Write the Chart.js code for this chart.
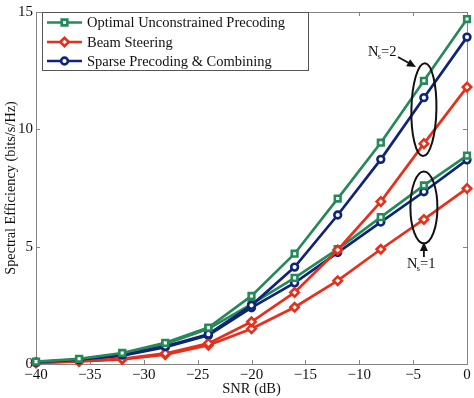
<!DOCTYPE html>
<html>
<head>
<meta charset="utf-8">
<script src="https://cdn.jsdelivr.net/npm/chart.js@4.4.0/dist/chart.umd.min.js"></script>
<style>
  html, body { margin: 0; padding: 0; background: #fff; }
  #wrap { width: 474px; height: 398px; }
</style>
</head>
<body>
<div id="wrap"><canvas id="seChart" width="474" height="398"></canvas></div>
<script>
// SNR points (dB) and axis ticks
const snr = [-40, -36, -32, -28, -24, -20, -16, -12, -8, -4, 0];
const xTicks = [-40, -35, -30, -25, -20, -15, -10, -5, 0];
const yTicks = [0, 5, 10, 15];

// Ns = 2 curves
const optimal2 = [0.10, 0.22, 0.47, 0.90, 1.55, 2.90, 4.70, 7.05, 9.43, 12.07, 14.70];
const sparse2  = [0.08, 0.18, 0.38, 0.75, 1.27, 2.50, 4.13, 6.35, 8.72, 11.35, 13.93];
const beam2    = [0.05, 0.12, 0.22, 0.45, 0.88, 1.80, 3.05, 4.86, 6.92, 9.39, 11.80];

// Ns = 1 curves
const optimal1 = [0.08, 0.20, 0.42, 0.85, 1.50, 2.55, 3.67, 4.89, 6.26, 7.61, 8.88];
const sparse1  = [0.07, 0.17, 0.36, 0.72, 1.22, 2.40, 3.46, 4.75, 6.05, 7.34, 8.70];
const beam1    = [0.05, 0.11, 0.20, 0.40, 0.80, 1.50, 2.42, 3.55, 4.89, 6.16, 7.48];

const legendNames = ['Optimal Unconstrained Precoding', 'Beam Steering', 'Sparse Precoding & Combining'];

const FONT = "'Liberation Serif', 'Times New Roman', serif";

const styles = [
    { color: '#26895a', pointStyle: 'rect', radius: 4.0 },
    { color: '#e5301c', pointStyle: 'rectRot', radius: 4.2 },
    { color: '#0e2479', pointStyle: 'circle', radius: 3.4 }
];

function makeSet(label, values, s) {
    return {
        label: label,
        data: values.map((v, i) => ({ x: snr[i], y: v })),
        borderColor: s.color,
        backgroundColor: '#ffffff',
        borderWidth: 2.7,
        pointStyle: s.pointStyle,
        pointRadius: s.radius,
        pointBorderWidth: 2.6,
        pointBackgroundColor: '#ffffff',
        pointBorderColor: s.color,
        tension: 0,
        clip: false
    };
}

// box + inward ticks like MATLAB
const framePlugin = {
    id: 'frame',
    beforeDatasetsDraw(chart) {
        const { ctx, chartArea: a, scales } = chart;
        ctx.save();
        ctx.strokeStyle = '#858585';
        ctx.lineWidth = 1;
        ctx.strokeRect(a.left + 0.5, a.top + 0.5, a.right - a.left, a.bottom - a.top);
        ctx.beginPath();
        xTicks.forEach(v => {
            const px = Math.round(scales.x.getPixelForValue(v)) + 0.5;
            ctx.moveTo(px, a.bottom); ctx.lineTo(px, a.bottom - 4);
            ctx.moveTo(px, a.top); ctx.lineTo(px, a.top + 4);
        });
        yTicks.forEach(v => {
            const py = Math.round(scales.y.getPixelForValue(v)) + 0.5;
            ctx.moveTo(a.left, py); ctx.lineTo(a.left + 4, py);
            ctx.moveTo(a.right, py); ctx.lineTo(a.right - 4, py);
        });
        ctx.stroke();
        ctx.restore();
    }
};

function drawNs(ctx, x, y, sub) {
    ctx.font = '14.5px ' + FONT;
    ctx.fillText('N', x, y);
    let w = ctx.measureText('N').width;
    ctx.font = '9px ' + FONT;
    ctx.fillText('s', x + w - 1, y + 3);
    w += ctx.measureText('s').width - 1;
    ctx.font = '14.5px ' + FONT;
    ctx.fillText('=' + sub, x + w, y);
}

function arrow(ctx, x1, y1, x2, y2) {
    const ang = Math.atan2(y2 - y1, x2 - x1);
    const len = 9, half = 4;
    ctx.beginPath();
    ctx.moveTo(x1, y1);
    ctx.lineTo(x2 - Math.cos(ang) * len * 0.8, y2 - Math.sin(ang) * len * 0.8);
    ctx.stroke();
    ctx.beginPath();
    ctx.moveTo(x2, y2);
    ctx.lineTo(x2 - Math.cos(ang) * len - Math.sin(ang) * half, y2 - Math.sin(ang) * len + Math.cos(ang) * half);
    ctx.lineTo(x2 - Math.cos(ang) * len + Math.sin(ang) * half, y2 - Math.sin(ang) * len - Math.cos(ang) * half);
    ctx.closePath();
    ctx.fill();
}

const overlayPlugin = {
    id: 'overlay',
    afterDraw(chart) {
        const { ctx, scales } = chart;
        ctx.save();

        // legend box
        const lx = 42, ly = 12, lw = 266, lh = 58;
        ctx.fillStyle = '#ffffff';
        ctx.fillRect(lx, ly, lw, lh);
        ctx.strokeStyle = '#555555';
        ctx.lineWidth = 1;
        ctx.strokeRect(lx + 0.5, ly + 0.5, lw, lh);
        const rows = [22.5, 42, 61];
        styles.forEach((s, i) => {
            const y = rows[i];
            ctx.strokeStyle = s.color;
            ctx.lineWidth = 2.7;
            ctx.beginPath();
            ctx.moveTo(47, y); ctx.lineTo(82, y);
            ctx.stroke();
            ctx.fillStyle = '#ffffff';
            ctx.lineWidth = 2.6;
            Chart.helpers.drawPoint(ctx, { pointStyle: s.pointStyle, radius: s.radius, rotation: 0, borderWidth: 2.6 }, 64.5, y);
            ctx.fillStyle = '#111111';
            ctx.font = '14.5px ' + FONT;
            ctx.textBaseline = 'middle';
            ctx.fillText(legendNames[i], 87, y + 1);
        });

        // annotations
        ctx.textBaseline = 'alphabetic';
        ctx.strokeStyle = '#111111';
        ctx.fillStyle = '#111111';
        ctx.lineWidth = 2;
        const cx = scales.x.getPixelForValue(-4);
        ctx.beginPath();
        ctx.ellipse(cx, scales.y.getPixelForValue(10.84), 12.5, 46.5, 0.02, 0, Math.PI * 2);
        ctx.stroke();
        ctx.beginPath();
        ctx.ellipse(cx, scales.y.getPixelForValue(6.67), 13.5, 36, 0, 0, Math.PI * 2);
        ctx.stroke();
        ctx.lineWidth = 1.8;
        arrow(ctx, 398, 57, 416, 67);
        arrow(ctx, cx, 257, cx, 242);
        drawNs(ctx, 368, 56, '2');
        drawNs(ctx, 407, 268, '1');

        ctx.restore();
    }
};

new Chart(document.getElementById('seChart'), {
    type: 'line',
    data: {
        datasets: [
            makeSet(legendNames[0] + ' (Ns=2)', optimal2, styles[0]),
            makeSet(legendNames[2] + ' (Ns=2)', sparse2, styles[2]),
            makeSet(legendNames[1] + ' (Ns=2)', beam2, styles[1]),
            makeSet(legendNames[0] + ' (Ns=1)', optimal1, styles[0]),
            makeSet(legendNames[2] + ' (Ns=1)', sparse1, styles[2]),
            makeSet(legendNames[1] + ' (Ns=1)', beam1, styles[1])
        ]
    },
    options: {
        responsive: false,
        animation: false,
        layout: { padding: { top: 5, right: 7, left: 0, bottom: 0 } },
        plugins: {
            legend: { display: false },
            tooltip: { enabled: false }
        },
        scales: {
            x: {
                type: 'linear',
                min: -40,
                max: 0,
                afterBuildTicks: s => { s.ticks = xTicks.map(v => ({ value: v })); },
                afterFit: s => { s.height = 34; },
                grid: { display: false, drawTicks: false },
                border: { display: false },
                ticks: {
                    color: '#111',
                    padding: 2,
                    maxRotation: 0,
                    font: { family: FONT, size: 15 },
                    callback: v => v < 0 ? '\u2212' + Math.abs(v) : String(v)
                },
                title: {
                    display: true,
                    text: 'SNR (dB)',
                    color: '#111',
                    padding: 0,
                    font: { family: FONT, size: 14.5 }
                }
            },
            y: {
                min: 0,
                max: 15,
                afterBuildTicks: s => { s.ticks = yTicks.map(v => ({ value: v })); },
                afterFit: s => { s.width = 36; },
                grid: { display: false, drawTicks: false },
                border: { display: false },
                ticks: {
                    color: '#111',
                    padding: 3,
                    font: { family: FONT, size: 15 }
                },
                title: {
                    display: true,
                    text: 'Spectral Efficiency (bits/s/Hz)',
                    color: '#111',
                    padding: { top: 3, bottom: 0 },
                    font: { family: FONT, size: 14.3 }
                }
            }
        }
    },
    plugins: [framePlugin, overlayPlugin]
});
</script>
</body>
</html>
